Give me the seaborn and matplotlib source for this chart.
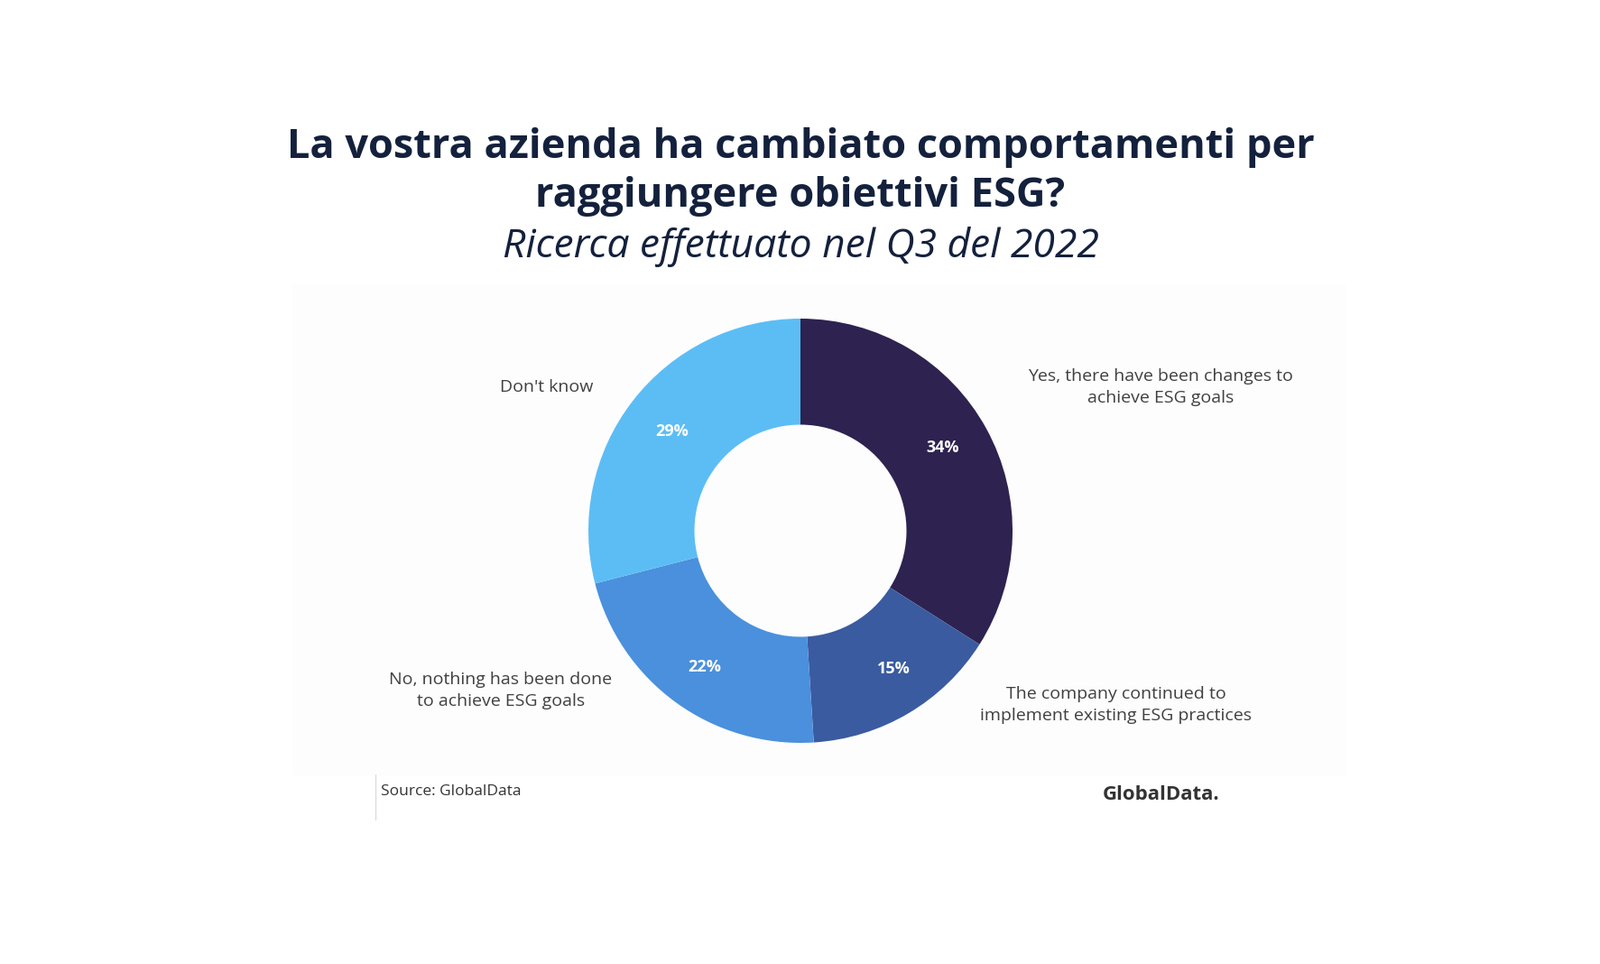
import matplotlib
matplotlib.use("Agg")
import matplotlib.pyplot as plt
import seaborn as sns

categories = ["Yes, there have been changes to\nachieve ESG goals",
              "The company continued to\nimplement existing ESG practices",
              "No, nothing has been done\nto achieve ESG goals",
              "Don't know"]
values = [34, 15, 22, 29]
colors = ["#2E2250", "#3A5BA0", "#4A90DC", "#5CBDF5"]

sns.set_theme(style="white", font="Open Sans")
fig = plt.figure(figsize=(17.74, 10.68), dpi=100)
ax = fig.add_axes([0, 0, 1, 1])

# faint panel like the pasted image
ax.add_patch(plt.Rectangle((324, 316), 1166, 542, color="#FDFDFE", zorder=0))

cx, cy, r = 887, 588, 235
# y axis is inverted below, so angles/direction are mirrored
wedges, _ = ax.pie(values, colors=colors, startangle=-90, counterclock=True,
                   center=(cx, cy), radius=r, frame=True,
                   wedgeprops={"width": r * 0.5, "edgecolor": "none"})
ax.set_xlim(0, 1774)
ax.set_ylim(1068, 0)
ax.set_aspect("equal")
ax.axis("off")

pct_pos = [(1045, 496), (990, 741), (781, 739), (745, 478)]
for (x, y), v in zip(pct_pos, values):
    ax.text(x, y, f"{v}%", color="white", fontsize=13, fontweight="bold",
            ha="center", va="center")

label_pos = [(1286, 429), (1237, 781), (555, 765), (606, 429)]
for (x, y), lab in zip(label_pos, categories):
    ax.text(x, y, lab, color="#404040", fontsize=14, ha="center", va="center",
            linespacing=1.4)

ax.text(887, 163, "La vostra azienda ha cambiato comportamenti per",
        fontsize=32.5, fontweight="bold", color="#14213D", ha="center", va="center")
ax.text(887, 218, "raggiungere obiettivi ESG?",
        fontsize=32.5, fontweight="bold", color="#14213D", ha="center", va="center")
ax.text(887, 273, "Ricerca effettuato nel Q3 del 2022",
        fontsize=32, fontstyle="italic", color="#14213D", ha="center", va="center")

ax.text(422, 877, "Source: GlobalData", fontsize=12.5, color="#333333",
        ha="left", va="center")
ax.plot([416, 416], [858, 908], color="#DDDDDD", lw=1)
ax.text(1287, 881, "GlobalData.", fontsize=16, fontweight="bold",
        color="#333333", ha="center", va="center")

fig.savefig("out.png", dpi=100)
